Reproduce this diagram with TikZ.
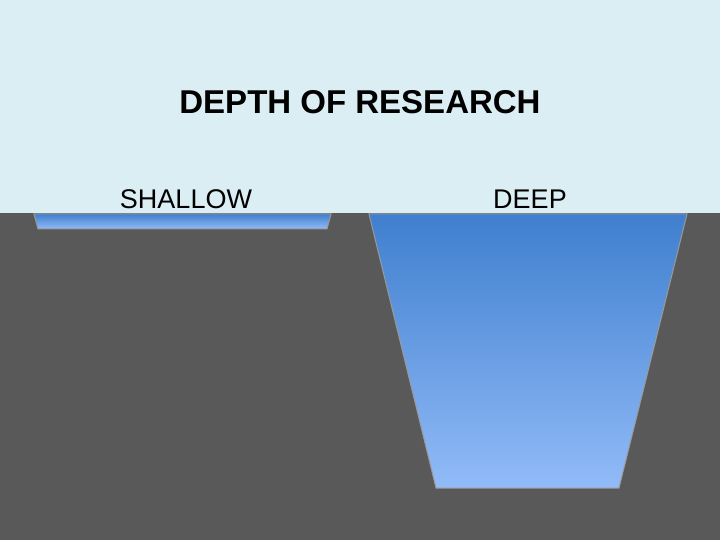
\documentclass[tikz,border=0pt]{standalone}
\usepackage{fontspec}
\setmainfont{Liberation Sans}
\begin{document}
\begin{tikzpicture}[x=1pt,y=-1pt,
  pit/.style={draw=gray!80,line width=1pt,top color=topblue,bottom color=botblue},
  lbl/.style={font=\fontsize{27}{30}\selectfont,text=black}]
\definecolor{sky}{HTML}{DBEEF3}
\definecolor{ground}{HTML}{595959}
\definecolor{topblue}{HTML}{3F7FCE}
\definecolor{botblue}{HTML}{92BBF8}
\useasboundingbox (0,0) rectangle (720,540);
\fill[sky] (0,0) rectangle (720,213);
\fill[ground] (0,213) rectangle (720,540);
\node[font=\bfseries\fontsize{33}{36}\selectfont] (title) at (360,102) {DEPTH OF RESEARCH};
\node[lbl] (shallow) at (186,199) {SHALLOW};
\node[lbl] (deep) at (530,199) {DEEP};
\draw[pit] (34,214) -- (331,214) -- (327,229) -- (38,229) -- cycle;
\draw[pit] (369,214) -- (687,214) -- (619,488) -- (436,488) -- cycle;
\end{tikzpicture}
\end{document}
